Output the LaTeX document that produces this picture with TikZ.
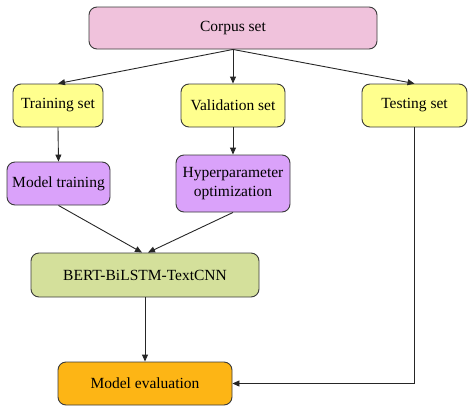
\documentclass[tikz,border=0pt]{standalone}
\usepackage{fontspec}
\setmainfont{Liberation Serif}
\usetikzlibrary{arrows.meta}
\definecolor{cpink}{HTML}{F0C2DC}
\definecolor{cyellow}{HTML}{FFFF8E}
\definecolor{cpurple}{HTML}{DAA2FA}
\definecolor{cgreen}{HTML}{D4E09B}
\definecolor{corange}{HTML}{FDB515}
\definecolor{cedge}{HTML}{3A3A3A}
\begin{document}
\begin{tikzpicture}[x=1pt,y=-1pt,
  box/.style={draw=cedge,line width=0.9pt,rounded corners=8pt,inner sep=0pt,align=center,
    font=\fontsize{15.5}{19}\selectfont,text=black},
  arr/.style={draw=black!85,line width=0.9pt,-{Triangle[length=7pt,width=6pt]}}]
\useasboundingbox (0,0) rectangle (474,413);
\node[box,fill=cpink,minimum width=288pt,minimum height=42pt] (corpus) at (233,28) {Corpus set};
\node[box,fill=cyellow,minimum width=90pt,minimum height=43pt] (train) at (58,105.5) {Training set};
\node[box,fill=cyellow,minimum width=104pt,minimum height=43pt] (valid) at (233,105.5) {Validation set};
\node[box,fill=cyellow,minimum width=105pt,minimum height=43pt] (test) at (414.5,105.5) {Testing set};
\node[box,fill=cpurple,minimum width=103pt,minimum height=43pt] (mtrain) at (58.5,183.5) {Model training};
\node[box,fill=cpurple,minimum width=114pt,minimum height=57pt] (hyper) at (233,183.5) {Hyperparameter\\optimization};
\node[box,fill=cgreen,minimum width=228pt,minimum height=44pt] (bert) at (145,275) {BERT-BiLSTM-TextCNN};
\node[box,fill=corange,minimum width=174pt,minimum height=43pt] (eval) at (145,383.5) {Model evaluation};
\coordinate (corner) at (414.5,383.5);
\draw[arr] (corpus.south) -- (train.north);
\draw[arr] (corpus.south) -- (valid.north);
\draw[arr] (corpus.south) -- (test.north);
\draw[arr] (train.south) -- (mtrain.north);
\draw[arr] (valid.south) -- (hyper.north);
\draw[arr] (mtrain.south) -- ([xshift=-3pt]bert.north);
\draw[arr] (hyper.south) -- ([xshift=3pt]bert.north);
\draw[arr] (bert.south) -- (eval.north);
\draw[arr] (test.south) -- (corner) -- (eval.east);
\end{tikzpicture}
\end{document}
